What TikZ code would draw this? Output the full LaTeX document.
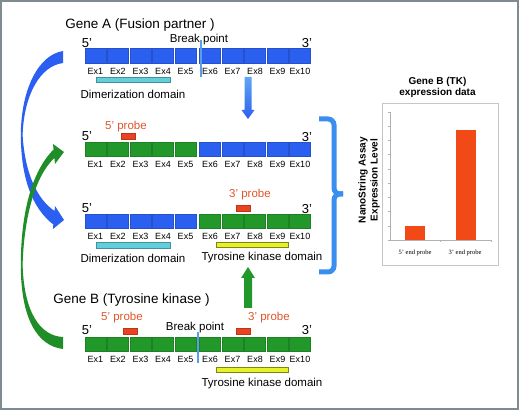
\documentclass[tikz,border=0pt]{standalone}
\usepackage{fontspec}
\setmainfont{Liberation Sans}
\setsansfont{Liberation Sans}
\newfontfamily\chartserif{Liberation Serif}
\usetikzlibrary{calc}
\definecolor{exblue}{HTML}{2B5FF0}
\definecolor{exgreen}{HTML}{22982B}
\definecolor{probered}{HTML}{EA4320}
\definecolor{probetext}{HTML}{E0542C}
\definecolor{dimcyan}{HTML}{60CFDB}
\definecolor{tkyellow}{HTML}{E4F227}
\definecolor{braceblue}{HTML}{3A8EF0}
\definecolor{bpblue}{HTML}{5A9EE8}
\definecolor{framegray}{HTML}{7F8C8F}
\definecolor{barred}{HTML}{F24A17}
\definecolor{crescblue}{HTML}{2A5FF2}
\definecolor{crescgreen}{HTML}{1F8E28}
\begin{document}
\begin{tikzpicture}[x=1pt,y=-1pt,
  exon/.style={minimum width=21pt,minimum height=14.5pt,inner sep=0pt,line width=0.3pt},
  exonblue/.style={exon,fill=exblue,draw=exblue!85!black},
  exongreen/.style={exon,fill=exgreen,draw=exgreen!85!black},
  exlab/.style={font=\fontsize{9}{10}\selectfont,inner sep=0pt},
  endlab/.style={font=\fontsize{13}{14}\selectfont,inner sep=0pt},
  probetxt/.style={font=\fontsize{11.5}{12}\selectfont,text=probetext,inner sep=0pt},
  probebox/.style={fill=probered,draw=probered!80!black,line width=0.3pt,minimum width=14pt,minimum height=6pt,inner sep=0pt},
  domtxt/.style={font=\fontsize{11.5}{12}\selectfont,inner sep=0pt},
  genetxt/.style={font=\fontsize{13.5}{15}\selectfont,inner sep=0pt},
  dimbar/.style={fill=dimcyan,draw=dimcyan!70!black,line width=0.4pt,minimum width=74pt,minimum height=5.5pt,inner sep=0pt},
  tkbar/.style={fill=tkyellow,draw=tkyellow!55!black,line width=0.4pt,minimum width=72pt,minimum height=5.5pt,inner sep=0pt},
  bpline/.style={draw=bpblue,line width=1.6pt},
  chartlab/.style={font=\chartserif\fontsize{6.5}{7}\selectfont,inner sep=0pt},
]
\useasboundingbox (0,0) rectangle (520,411);
\draw[framegray,line width=2pt] (1,1) rectangle (518,409);

% ---------- Row 1: Gene A ----------
\node[genetxt] (geneA) at (140,25) {Gene A (Fusion partner )};
\foreach \k/\x in {1/95.5,2/118,3/140.5,4/163,5/185.5,6/210,7/232.5,8/255,9/277.5,10/300}{
  \node[exonblue] (a\k) at (\x,55.5) {};
  \node[exlab] (al\k) at (\x,71) {Ex\k};
}
\node[endlab] (a5p) at (87,43) {5’};
\node[endlab] (a3p) at (307,43) {3’};
\coordinate (abpT) at (201,40);
\coordinate (abpB) at (201,77);
\node[domtxt] (abptxt) at (199,40) {Break point};
\draw[bpline] (abpT) -- (abpB);
\node[dimbar] (adim) at (133,79.5) {};
\node[domtxt] (adimtxt) at (133,94) {Dimerization domain};

% ---------- Row 2: fusion B-A ----------
\foreach \k/\x in {1/95.5,2/118,3/140.5,4/163,5/185.5}{
  \node[exongreen] (b\k) at (\x,149) {};
  \node[exlab] (bl\k) at (\x,164) {Ex\k};
}
\foreach \k/\x in {6/210,7/232.5,8/255,9/277.5,10/300}{
  \node[exonblue] (b\k) at (\x,149) {};
  \node[exlab] (bl\k) at (\x,164) {Ex\k};
}
\node[endlab] (b5p) at (87,136) {5’};
\node[endlab] (b3p) at (307,137) {3’};
\node[probebox] (bprobe) at (128.5,136.5) {};
\node[probetxt] (bprobetxt) at (126,127) {5’ probe};

% ---------- Row 3: fusion A-B ----------
\foreach \k/\x in {1/95.5,2/118,3/140.5,4/163,5/185.5}{
  \node[exonblue] (c\k) at (\x,221) {};
  \node[exlab] (cl\k) at (\x,236) {Ex\k};
}
\foreach \k/\x in {6/210,7/232.5,8/255,9/277.5,10/300}{
  \node[exongreen] (c\k) at (\x,221) {};
  \node[exlab] (cl\k) at (\x,236) {Ex\k};
}
\node[endlab] (c5p) at (87,208) {5’};
\node[endlab] (c3p) at (307,209) {3’};
\node[probebox] (cprobe) at (243,208) {};
\node[probetxt] (cprobetxt) at (250,195) {3’ probe};
\node[dimbar] (cdim) at (133,245) {};
\node[tkbar] (ctk) at (252,244.5) {};
\node[domtxt] (cdimtxt) at (133,258) {Dimerization domain};
\node[domtxt] (ctktxt) at (262,258) {Tyrosine kinase domain};

% ---------- Row 4: Gene B ----------
\node[genetxt] (geneB) at (131.5,300) {Gene B (Tyrosine kinase )};
\foreach \k/\x in {1/95.5,2/118,3/140.5,4/163,5/185.5,6/210,7/232.5,8/255,9/277.5,10/300}{
  \node[exongreen] (d\k) at (\x,344) {};
  \node[exlab] (dl\k) at (\x,359) {Ex\k};
}
\node[endlab] (d5p) at (87,330) {5’};
\node[endlab] (d3p) at (307,330) {3’};
\node[domtxt] (dbptxt) at (195,328) {Break point};
\coordinate (dbpT) at (198,332);
\coordinate (dbpB) at (198,363);
\draw[bpline] (dbpT) -- (dbpB);
\node[probebox] (dprobe5) at (130,331) {};
\node[probebox] (dprobe3) at (243,331) {};
\node[probetxt] (dprobe5txt) at (122,318) {5’ probe};
\node[probetxt] (dprobe3txt) at (269,318) {3’ probe};
\node[tkbar] (dtk) at (252,369.5) {};
\node[domtxt] (dtktxt) at (262,384) {Tyrosine kinase domain};

% ---------- straight block arrows ----------
\coordinate (downT) at (248,77);
\coordinate (downH) at (248,110);
\coordinate (downTip) at (248,119);
\shade[top color=braceblue!80,bottom color=exblue]
  ($(downT)+(-3.5,0)$) -- ($(downH)+(-3.5,0)$) -- ($(downH)+(-6.5,0)$) -- (downTip)
  -- ($(downH)+(6.5,0)$) -- ($(downH)+(3.5,0)$) -- ($(downT)+(3.5,0)$) -- cycle;
\coordinate (upT) at (248,308);
\coordinate (upH) at (248,278);
\coordinate (upTip) at (248,267);
\fill[exgreen]
  ($(upT)+(-4,0)$) -- ($(upH)+(-4,0)$) -- ($(upH)+(-7,0)$) -- (upTip)
  -- ($(upH)+(7,0)$) -- ($(upH)+(4,0)$) -- ($(upT)+(4,0)$) -- cycle;

% ---------- curved crescent arrows ----------
\fill[crescblue]
  (63,51) .. controls (38,55) and (21,90) .. (20.8,135)
  .. controls (21,178) and (32,208) .. (53.3,224.5)
  -- (53,229) -- (64,220) -- (55,206) -- (54.6,211)
  .. controls (38,200) and (25,175) .. (22.6,135)
  .. controls (24,95) and (40,66) .. (63,63) -- cycle;
\fill[crescgreen]
  (63,349) .. controls (38,346) and (20.8,320) .. (20.8,265)
  .. controls (20.8,215) and (31,172) .. (53.6,149.5)
  -- (53,144) -- (64,152) -- (55,164) -- (54.4,158)
  .. controls (36,175) and (24,215) .. (22.6,265)
  .. controls (24,312) and (40,336) .. (63,337) -- cycle;

% ---------- brace ----------
\draw[braceblue,line width=5pt,rounded corners=6pt] (319,119) -- (334,119) -- (334,194) -- (343,194);
\draw[braceblue,line width=5pt,rounded corners=6pt] (319,272) -- (334,272) -- (334,194) -- (343,194);

\node[rotate=90,align=center,font=\bfseries\fontsize{10}{12}\selectfont,inner sep=0pt] (ylabel) at (369,180) {NanoString Assay\\Expression Level};

% ---------- chart ----------
\node[align=center,font=\bfseries\fontsize{10}{11}\selectfont,inner sep=0pt] (ctitle) at (437.5,87.5) {Gene B (TK)\\expression data};
\draw[gray!45,line width=0.7pt] (382,103) rectangle (498,265);
\draw[gray!60,line width=0.5pt] (390,112) -- (390,240) -- (491,240);
\foreach \i in {0,...,9}{
  \draw[gray!60,line width=0.4pt] (388,112+14.222*\i) -- (390,112+14.222*\i);
}
\draw[gray!60,line width=0.4pt] (440.5,240) -- (440.5,242);
\draw[gray!60,line width=0.4pt] (491,240) -- (491,242);
\fill[barred] (405,226) rectangle (425,240);
\fill[barred] (456,130) rectangle (476,240);
\node[chartlab] (xl1) at (415,253) {5’ end probe};
\node[chartlab] (xl2) at (465,253) {3’ end probe};
\end{tikzpicture}
\end{document}
